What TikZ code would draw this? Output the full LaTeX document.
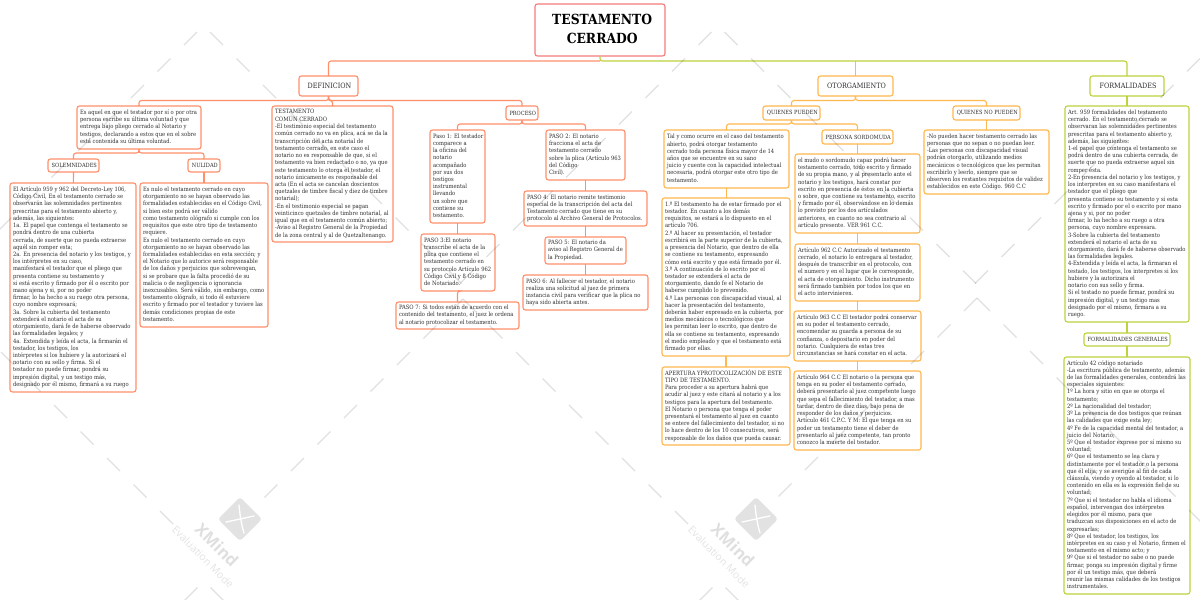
\documentclass[tikz,border=0pt]{standalone}
\usepackage{fontspec}
\setmainfont{DejaVu Serif}[FakeStretch=0.885]
\newfontfamily\wmfont{Open Sans}
\usetikzlibrary{calc}
\definecolor{cdef}{HTML}{FF8F6B}
\definecolor{cotg}{HTML}{FFB84F}
\definecolor{cfor}{HTML}{BDD23C}
\definecolor{croot}{HTML}{F47C7C}
\definecolor{ctxt}{HTML}{2E2E2E}
\tikzset{
  x=1pt,y=-1pt,
  box/.style={draw,fill=white,rounded corners=2.5pt,line width=1.1pt,inner sep=0pt,outer sep=0pt,text=ctxt},
  defbox/.style={box,draw=cdef},
  otgbox/.style={box,draw=cotg},
  forbox/.style={box,draw=cfor},
  rootbox/.style={box,draw=croot,text=black},
  deflink/.style={draw=cdef,line width=1.1pt,rounded corners=2.5pt},
  otglink/.style={draw=cotg,line width=1.1pt,rounded corners=2.5pt},
  forlink/.style={draw=cfor,line width=1.1pt,rounded corners=2.5pt},
  wmline/.style={draw=black,draw opacity=.12,line width=1.1pt},
}
\newcommand{\txtfont}{\fontsize{5.9}{7.22}\selectfont}
\newcommand{\lblfont}{\fontsize{5.73}{7}\selectfont}
\newcommand{\hdfont}{\fontsize{7.3}{9}\selectfont}
% left aligned text box: name x1 y1 x2 y2 style text
\newcommand{\tbx}[7]{%
  \pgfmathsetmacro{\bW}{#4-#2}\pgfmathsetmacro{\bH}{#5-#3}%
  \pgfmathsetmacro{\bX}{(#2+#4)/2}\pgfmathsetmacro{\bY}{(#3+#5)/2}%
  \pgfmathsetmacro{\bT}{#4-#2-6}%
  \node[#6,minimum width=\bW pt,minimum height=\bH pt] (#1) at (\bX,\bY)
    {\makebox[\bT pt][l]{\txtfont\begin{tabular}{@{}l@{}}#7\end{tabular}}};}
% centred label: name x1 y1 x2 y2 style font text
\newcommand{\cbx}[8]{%
  \pgfmathsetmacro{\bW}{#4-#2}\pgfmathsetmacro{\bH}{#5-#3}%
  \pgfmathsetmacro{\bX}{(#2+#4)/2}\pgfmathsetmacro{\bY}{(#3+#5)/2}%
  \node[#6,minimum width=\bW pt,minimum height=\bH pt] (#1) at (\bX,\bY) {#7 #8};}
% dashes of the watermark: apex x, apex y, direction, first offset, last offset
\newcommand{\wmarm}[5]{%
  \pgfmathsetmacro{\tnext}{#4+26.5}%
  \foreach \t in {#4,\tnext,...,#5} {%
    \draw[wmline] ({#1+(#3)*\t},{#2+\t}) -- ({#1+(#3)*(\t+13)},{#2+\t+13});}}
\newcommand{\wmlogo}[2]{%
  \fill[black,fill opacity=.115,rounded corners=3pt] (#1-22,#2) -- (#1,#2-22) -- (#1+22,#2) -- (#1,#2+22) -- cycle;
  \draw[white,line width=1.3pt,line cap=round] (#1-1,#2-14) .. controls (#1,#2-4) and (#1+1,#2+4) .. (#1+4,#2+14);
  \draw[white,line width=1.3pt,line cap=round] (#1-14,#2+3) .. controls (#1-4,#2+1) and (#1+4,#2-1) .. (#1+14,#2-3);
  \node[text=black,text opacity=.125,inner sep=0pt,rotate=-45] (xm#1) at (#1-23,#2+26) {\wmfont\bfseries\fontsize{16.5}{18}\selectfont XMind};
  \node[text=black,text opacity=.11,inner sep=0pt,rotate=-45] (ev#1) at (#1-37,#2+38) {\wmfont\fontsize{10.5}{12}\selectfont Evaluation Mode};}
\begin{document}
\begin{tikzpicture}
\useasboundingbox (0,0) rectangle (1200,600);
\fill[white] (0,0) rectangle (1200,600);

% root and main topics
\cbx{root}{535}{4}{665}{56}{rootbox}{\bfseries\fontsize{13.95}{19.5}\selectfont}{\begin{tabular}{@{}c@{}}TESTAMENTO\\CERRADO\end{tabular}}
\cbx{defi}{299}{76}{358}{96}{defbox}{\hdfont}{DEFINICION}
\cbx{otg}{818}{76}{893}{96}{otgbox}{\hdfont}{OTORGAMIENTO}
\cbx{form}{1090}{76}{1164}{96}{forbox}{\hdfont}{FORMALIDADES}

% DEFINICION branch
\tbx{esaq}{77}{106}{201}{149}{defbox}{Es aquel en que el testador por sí o por otra\\persona escribe su última voluntad y que\\entrega bajo pliego cerrado al Notario y\\testigos, declarando a estos que en el sobre\\está contenida su última voluntad.}
\cbx{solem}{48}{159}{99}{172}{defbox}{\lblfont}{SOLEMNIDADES}
\cbx{nul}{188}{159}{220}{172}{defbox}{\lblfont}{NULIDAD}
\tbx{solemt}{10}{183}{136}{392}{defbox}{El Artículo 959 y 962 del Decreto-Ley 106,\\Código Civil, En el testamento cerrado se\\observarán las solemnidades pertinentes\\prescritas para el testamento abierto y,\\además, las siguientes:\\1a. El papel que contenga el testamento se\\pondrá dentro de una cubierta\\cerrada, de suerte que no pueda extraerse\\aquél sin romper esta;\\2a. En presencia del notario y los testigos, y\\los intérpretes en su caso,\\manifestará el testador que el pliego que\\presenta contiene su testamento y\\si está escrito y firmado por él o escrito por\\mano ajena y si, por no poder\\firmar, lo ha hecho a su ruego otra persona,\\cuyo nombre expresará;\\3a. Sobre la cubierta del testamento\\extenderá el notario el acta de su\\otorgamiento, dará fe de haberse observado\\las formalidades legales; y\\4a. Extendida y leída el acta, la firmarán el\\testador, los testigos, los\\intérpretes si los hubiere y la autorizará el\\notario con su sello y firma. Si el\\testador no puede firmar, pondrá su\\impresión digital, y un testigo más,\\designado por él mismo, firmará a su ruego}
\tbx{nult}{140}{183}{268}{327}{defbox}{Es nulo el testamento cerrado en cuyo\\otorgamiento no se hayan observado las\\formalidades establecidas en el Código Civil,\\si bien este podrá ser válido\\como testamento ológrafo si cumple con los\\requisitos que este otro tipo de testamento\\requiere.\\Es nulo el testamento cerrado en cuyo\\otorgamiento no se hayan observado las\\formalidades establecidas en esta sección; y\\el Notario que lo autorice será responsable\\de los daños y perjuicios que sobrevengan,\\si se probare que la falta procedió de su\\malicia o de negligencia o ignorancia\\inexcusables. Será válido, sin embargo, como\\testamento ológrafo, si todo él estuviere\\escrito y firmado por el testador y tuviere las\\demás condiciones propias de este\\testamento.}
\tbx{comun}{272}{106}{393}{242}{defbox}{TESTAMENTO\\COMÚN CERRADO\\-El testimonio especial del testamento\\común cerrado no va en plica, acá se da la\\transcripción del acta notarial de\\testamento cerrado, en este caso el\\notario no es responsable de que, si el\\testamento va bien redactado o no, ya que\\este testamento lo otorga el testador, el\\notario únicamente es responsable del\\acta (En el acta se cancelan doscientos\\quetzales de timbre fiscal y diez de timbre\\notarial);\\-En el testimonio especial se pagan\\veinticinco quetzales de timbre notarial, al\\igual que en el testamento común abierto;\\-Aviso al Registro General de la Propiedad\\de la zona central y al de Quetzaltenango.}
\cbx{proc}{506}{106}{538}{120}{defbox}{\lblfont}{PROCESO}
\tbx{paso1}{430}{130}{485}{223}{defbox}{Paso 1: El testador\\comparece a\\la oficina del\\notario\\acompañado\\por sus dos\\testigos\\instrumental\\llevando\\un sobre que\\contiene su\\testamento.}
\tbx{paso3}{421}{234}{495}{291}{defbox}{PASO 3:El notario\\transcribe el acta de la\\plica que contiene el\\testamento cerrado en\\su protocolo Artículo 962\\Código Civil y 8 Código\\de Notariado.}
\tbx{paso7}{396}{302}{519}{329}{defbox}{PASO 7: Si todos están de acuerdo con el\\contenido del testamento, el juez le ordena\\al notario protocolizar el testamento.}
\tbx{paso2}{546}{130}{625}{180}{defbox}{PASO 2: El notario\\fracciona el acta de\\testamento cerrado\\sobre la plica (Artículo 963\\del Código\\Civil).}
\tbx{paso4}{524}{191}{647}{226}{defbox}{PASO 4: El notario remite testimonio\\especial de la transcripción del acta del\\Testamento cerrado que tiene en su\\protocolo al Archivo General de Protocolos.}
\tbx{paso5}{545}{237}{626}{264}{defbox}{PASO 5: El notario da\\aviso al Registro General de\\la Propiedad.}
\tbx{paso6}{523}{275}{648}{310}{defbox}{PASO 6: Al fallecer el testador, el notario\\realiza una solicitud al juez de primera\\instancia civil para verificar que la plica no\\haya sido abierta antes.}

% OTORGAMIENTO branch
\cbx{qp}{763}{106}{820}{120}{otgbox}{\lblfont}{QUIENES PUEDEN}
\cbx{qnp}{953}{106}{1020}{120}{otgbox}{\lblfont}{QUIENES NO PUEDEN}
\tbx{tal}{664}{130}{789}{188}{otgbox}{Tal y como ocurre en el caso del testamento\\abierto, podrá otorgar testamento\\cerrado toda persona física mayor de 14\\años que se encuentre en su sano\\juicio y cuente con la capacidad intelectual\\necesaria, podrá otorgar este otro tipo de\\testamento.}
\tbx{num}{662}{198}{790}{356}{otgbox}{1.º El testamento ha de estar firmado por el\\testador. En cuanto a los demás\\requisitos, se estará a lo dispuesto en el\\artículo 706.\\2.º Al hacer su presentación, el testador\\escribirá en la parte superior de la cubierta,\\a presencia del Notario, que dentro de ella\\se contiene su testamento, expresando\\cómo está escrito y que está firmado por él.\\3.º A continuación de lo escrito por el\\testador se extenderá el acta de\\otorgamiento, dando fe el Notario de\\haberse cumplido lo prevenido.\\4.º Las personas con discapacidad visual, al\\hacer la presentación del testamento,\\deberán haber expresado en la cubierta, por\\medios mecánicos o tecnológicos que\\les permitan leer lo escrito, que dentro de\\ella se contiene su testamento, expresando\\el medio empleado y que el testamento está\\firmado por ellas.}
\tbx{aper}{662}{367}{790}{445}{otgbox}{APERTURA YPROTOCOLIZACIÓN DE ESTE\\TIPO DE TESTAMENTO.\\Para proceder a su apertura habrá que\\acudir al juez y este citará al notario y a los\\testigos para la apertura del testamento.\\El Notario o persona que tenga el poder\\presentará el testamento al juez en cuanto\\se entere del fallecimiento del testador, si no\\lo hace dentro de los 10 consecutivos, será\\responsable de los daños que pueda causar.}
\cbx{sord}{822}{130}{893}{144}{otgbox}{\lblfont}{PERSONA SORDOMUDA}
\tbx{mudo}{795}{154}{920}{233}{otgbox}{el mudo o sordomudo capaz podrá hacer\\testamento cerrado, todo escrito y firmado\\de su propia mano, y al presentarlo ante el\\notario y los testigos, hará constar por\\escrito en presencia de éstos en la cubierta\\o sobre, que contiene su testamento, escrito\\y firmado por él, observándose en lo demás\\lo previsto por los dos artículados\\anteriores, en cuanto no sea contrario al\\artículo presente. VER 961 C.C.}
\tbx{a962}{795}{244}{920}{301}{otgbox}{Artículo 962 C.C Autorizado el testamento\\cerrado, el notario lo entregara al testador,\\después de transcribir en el protocolo, con\\el numero y en el lugar que le corresponde,\\el acta de otorgamiento. Dicho instrumento\\será firmado también por todos los que en\\el acto intervinieren.}
\tbx{a963}{794}{311}{921}{361}{otgbox}{Artículo 963 C.C El testador podrá conservar\\en su poder el testamento cerrado,\\encomendar su guarda a persona de su\\confianza, o depositario en poder del\\notario. Cualquiera de estas tres\\circunstancias se hará constar en el acta.}
\tbx{a964}{794}{371}{921}{450}{otgbox}{Artículo 964 C.C El notario o la persona que\\tenga en su poder el testamento cerrado,\\deberá presentarlo al juez competente luego\\que sepa el fallecimiento del testador, a mas\\tardar, dentro de diez días, bajo pena de\\responder de los daños y perjuicios.\\Artículo 461 C.P.C. Y M: El que tenga en su\\poder un testamento tiene el deber de\\presentarlo al juez competente, tan pronto\\conozco la muerte del testador.}
\tbx{nop}{924}{130}{1049}{194}{otgbox}{-No pueden hacer testamento cerrado las\\personas que no sepan o no puedan leer.\\-Las personas con discapacidad visual\\podrán otorgarlo, utilizando medios\\mecánicos o tecnológicos que les permitan\\escribirlo y leerlo, siempre que se\\observen los restantes requisitos de validez\\establecidos en este Código. 960 C.C}

% FORMALIDADES branch
\tbx{a959}{1065}{106}{1189}{322}{forbox}{Art. 959 formalidades del testamento\\cerrado. En el testamento cerrado se\\observaran las solemnidades pertinentes\\prescritas para el testamento abierto y,\\además, las siguientes:\\1-el papel que contenga el testamento se\\podrá dentro de una cubierta cerrada, de\\suerte que no pueda extraerse aquel sin\\romper ésta.\\2-En presencia del notario y los testigos, y\\los interpretes en su caso manifestara el\\testador que el pliego que\\presenta contiene su testamento y si esta\\escrito y firmado por el o escrito por mano\\ajena y si, por no poder\\firmar, lo ha hecho a su ruego a otra\\persona, cuyo nombre expresara.\\3-Sobre la cubierta del testamento\\extenderá el notario el acta de su\\otorgamiento, dará fe de haberse observado\\las formalidades legales.\\4-Extendida y leída el acta, la firmaran el\\testado, los testigos, los interpretes si los\\hubiere y la autorizara el\\notario con sus sello y firma.\\Si el testado no puede firmar, pondrá su\\impresión digital, y un testigo mas\\designado por el mismo, firmara a su\\ruego.}
\cbx{fgen}{1084}{333}{1170}{346}{forbox}{\lblfont}{FORMALIDADES GENERALES}
\tbx{a42}{1064}{357}{1190}{594}{forbox}{Artículo 42 código notariado\\-La escritura pública de testamento, además\\de las formalidades generales, contendrá las\\especiales siguientes:\\1º La hora y sitio en que se otorga el\\testamento;\\2º La nacionalidad del testador;\\3º La presencia de dos testigos que reúnan\\las calidades que exige esta ley;\\4º Fe de la capacidad mental del testador, a\\juicio del Notario;\\5º Que el testador exprese por sí mismo su\\voluntad;\\6º Que el testamento se lea clara y\\distintamente por el testador o la persona\\que él elija; y se averigüe al fin de cada\\cláusula, viendo y oyendo al testador, si lo\\contenido en ella es la expresión fiel de su\\voluntad;\\7º Que si el testador no habla el idioma\\español, intervengan dos intérpretes\\elegidos por él mismo, para que\\traduzcan sus disposiciones en el acto de\\expresarlas;\\8º Que el testador, los testigos, los\\intérpretes en su caso y el Notario, firmen el\\testamento en el mismo acto; y\\9º Que si el testador no sabe o no puede\\firmar, ponga su impresión digital y firme\\por él un testigo más, que deberá\\reunir las mismas calidades de los testigos\\instrumentales.}

% connectors
\draw[forlink] (root.south) -- ++(0,5) -| (form.north);
\draw[deflink] (root.south) ++(0,5) -| (defi.north);
\draw[otglink] (otg.north) -- ++(0,-15);
\draw[deflink] (defi.south) -- ++(0,4.5) -| (esaq.north);
\draw[deflink] (defi.south) -- ++(0,4.5) -| (comun.north);
\draw[deflink] (defi.south) -- ++(0,4.5) -| (proc.north);
\draw[deflink] (esaq.south) -- ++(0,4) -| (solem.north);
\draw[deflink] (esaq.south) -- ++(0,4) -| (nul.north);
\draw[deflink] (solem) -- (solemt);
\draw[deflink] (nul) -- (nult);
\draw[deflink] (proc.south) -- ++(0,4) -| (paso1.north);
\draw[deflink] (proc.south) -- ++(0,4) -| (paso2.north);
\draw[deflink] (paso1.south) -- (paso1.south |- paso3.north);
\draw[deflink] (paso3.south) -- (paso3.south -| paso7.north) -- (paso7.north);
\draw[deflink] (paso2.south) -- (paso2.south |- paso4.north);
\draw[deflink] (paso4.south) -- (paso4.south |- paso5.north);
\draw[deflink] (paso5.south) -- (paso5.south |- paso6.north);
\draw[otglink] (otg.south) -- ++(0,4.5) -| (qp.north);
\draw[otglink] (otg.south) -- ++(0,4.5) -| (qnp.north);
\draw[otglink] (qp.south) -- ++(0,4) -| (tal.north);
\draw[otglink] (qp.south) -- ++(0,4) -| (sord.north);
\draw[otglink] (tal.south) -- (tal.south |- num.north);
\draw[otglink] (num.south) -- (num.south |- aper.north);
\draw[otglink] (sord.south) -- (sord.south |- mudo.north);
\draw[otglink] (mudo.south) -- (mudo.south |- a962.north);
\draw[otglink] (a962.south) -- (a962.south |- a963.north);
\draw[otglink] (a963.south) -- (a963.south |- a964.north);
\draw[otglink] (qnp.south) -- (qnp.south |- nop.north);
\draw[forlink] (form.south) -- (form.south |- a959.north);
\draw[forlink] (a959.south) -- (a959.south |- fgen.north);
\draw[forlink] (fgen.south) -- (fgen.south |- a42.north);

% watermark
\begin{scope}
\clip (0,0) rectangle (1200,600);
\wmarm{203.5}{25.5}{-1}{6.5}{245}
\wmarm{203.5}{25.5}{1}{6.5}{245}
\wmarm{718}{25.5}{-1}{6.5}{245}
\wmarm{718}{25.5}{1}{6.5}{245}
\wmarm{1233}{25.5}{-1}{6.5}{245}
\wmarm{463}{299}{-1}{0}{186}
\wmarm{463}{299}{1}{0}{213}
\wmarm{-52}{299}{1}{0}{213}
\wmarm{977}{298}{-1}{0}{186}
\wmarm{977}{298}{1}{0}{245}
\wmarm{204}{581}{-1}{6.5}{7}
\wmarm{204}{581}{1}{6.5}{7}
\wmarm{719}{581}{-1}{6.5}{7}
\wmarm{719}{581}{1}{6.5}{7}
\wmlogo{240}{519}
\wmlogo{756}{519}
\end{scope}
\end{tikzpicture}
\end{document}
